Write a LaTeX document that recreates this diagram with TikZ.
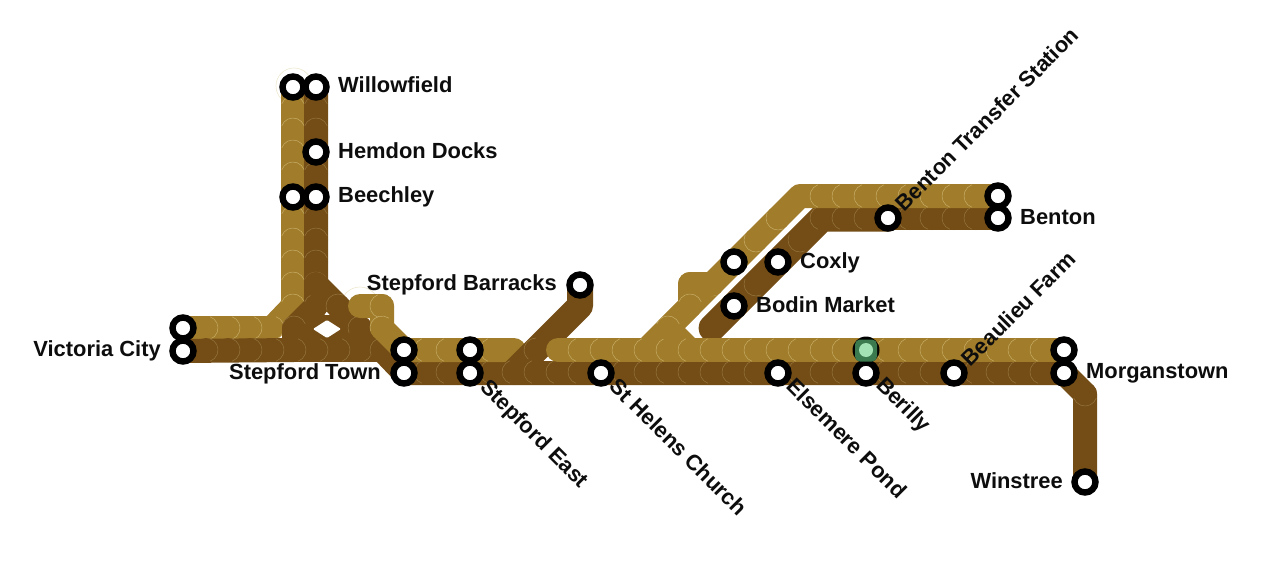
\documentclass[tikz,border=0pt]{standalone}
\usepackage{fontspec}
\setmainfont{Liberation Sans}
\usetikzlibrary{backgrounds}
\definecolor{lineA}{HTML}{A07C2B}
\definecolor{lineB}{HTML}{744D16}
\definecolor{arcA}{HTML}{C8AE68}
\definecolor{arcB}{HTML}{96763E}
\definecolor{greenring}{HTML}{3B7A4E}
\definecolor{greencore}{HTML}{A3E2B5}
\definecolor{halo}{HTML}{EFE8CF}
\tikzset{
  stop/.style={circle,draw=black,fill=white,line width=6.4pt,minimum size=21pt,inner sep=0pt},
  lab/.style={font=\fontsize{21.9}{24}\selectfont\bfseries,inner sep=0pt,text=black!95},
  bandA/.style={draw=lineA,line width=24pt,line cap=round,line join=round},
  bandB/.style={draw=lineB,line width=24pt,line cap=round,line join=round}
}
% #1 colour letter, #2 direction of the visible arc, #3 list x/y
\newcommand{\balls}[3]{\foreach \bx/\by in {#3} {%
  \fill[line#1] (\bx,\by) circle[radius=12];
  \draw[arc#1,line width=0.5pt] (\bx,\by) ++({#2-70}:12) arc[start angle={#2-70},delta angle=140,radius=12];}}
\begin{document}
\begin{tikzpicture}[x=1pt,y=-1pt]
\useasboundingbox (0,0) rectangle (1278,562);
% stations
\node[stop] (willowA) at (293,87) {};
\node[stop] (willowB) at (316,87) {};
\node[stop] (hemdon) at (316,152) {};
\node[stop] (beechA) at (293,197) {};
\node[stop] (beechB) at (316,197) {};
\node[stop] (victA) at (183,328) {};
\node[stop] (victB) at (183,351) {};
\node[stop] (townA) at (404,350) {};
\node[stop] (townB) at (404,373) {};
\node[stop] (eastA) at (470,350) {};
\node[stop] (eastB) at (470,373) {};
\node[stop] (barracks) at (580,285) {};
\node[stop] (helens) at (601,373) {};
\node[stop] (elsemere) at (778,373) {};
\node[stop] (berilly) at (866,373) {};
\node[stop] (beaulieu) at (954,373) {};
\node[stop] (morgA) at (1064,350) {};
\node[stop] (morgB) at (1064,373) {};
\node[stop] (winstree) at (1085,482) {};
\node[stop] (coxlyA) at (734,262) {};
\node[stop] (coxlyB) at (778,262) {};
\node[stop] (bodin) at (734,306) {};
\node[stop] (transfer) at (888,218) {};
\node[stop] (bentonA) at (998,196) {};
\node[stop] (bentonB) at (998,218) {};
\node[circle,fill=black,minimum size=27pt,inner sep=0pt] (greenblack) at (866,350) {};
\path[fill=greenring,rounded corners=5pt] (855,339.5) rectangle (877,361.5);
\node[circle,fill=greencore,minimum size=14pt,inner sep=0pt] (greendot) at (866,350) {};
% bends
\coordinate (a1) at (293,306); \coordinate (a2) at (272,328);
\coordinate (a3) at (360,306); \coordinate (a4) at (382,306); \coordinate (a5) at (382,328);
\coordinate (a6) at (514,350);
\coordinate (a7) at (558,350); \coordinate (a8) at (646,350); \coordinate (a9) at (800,196);
\coordinate (a10) at (690,284); \coordinate (a11) at (690,306); \coordinate (a12) at (668,328); \coordinate (a13) at (690,350);
\coordinate (a14) at (712,284);
\coordinate (b1) at (316,306); \coordinate (b2) at (294,328); \coordinate (b3) at (294,350);
\coordinate (b4) at (316,284); \coordinate (b5) at (360,328); \coordinate (b6) at (382,350);
\coordinate (b7) at (338,350);
\coordinate (b9) at (1085,394);
\coordinate (b10) at (580,306); \coordinate (b11) at (514,372);
\coordinate (b12) at (712,328); \coordinate (b13) at (822,218);
\begin{pgfonlayer}{background}
\path[fill=white] (0,0) rectangle (1278,562);
\draw[halo,line width=0.6pt] (294,86) circle[radius=18];
\draw[halo,line width=0.6pt] (360,306) circle[radius=19];
% light: Willowfield to Victoria City
\draw[bandA] (willowA.center) -- (a1) -- (a2) -- (victA.center);
\balls{A}{270}{293/108,293/130,293/152,293/174,293/196,293/218,293/240,293/262,293/284,293/306}
\balls{A}{0}{272/328,250/328,228/328,206/328}
% dark: Willowfield to Victoria City
\fill[lineB] (305,315) rectangle (350,345);
\draw[bandB] (willowB.center) -- (hemdon.center) -- (beechB.center) -- (b1) -- (b2) -- (b3) -- (victB.center);
\draw[bandB] (b5) -- (b7);
\draw[bandB] (b6) -- (b3);
\balls{B}{270}{316/108,316/130,316/152,316/174,316/196,316/218,316/240,316/262,316/284,316/306}
\balls{B}{0}{360/350,338/350,316/350}
\balls{B}{270}{294/328}
\balls{B}{0}{294/350,272/350,250/350,228/350,206/350}
% dark: Willowfield to Winstree
\draw[bandB] (b4) -- (b5) -- (b6) -- (townB.center) -- (eastB.center) -- (helens.center) -- (elsemere.center) -- (berilly.center) -- (beaulieu.center) -- (morgB.center) -- (b9) -- (winstree.center);
\balls{B}{225}{338/306,360/328,382/350}
\balls{B}{180}{426/372,448/372,492/372}
\foreach \cx in {624,646,...,1042} {\balls{B}{180}{\cx/372}}
\balls{B}{90}{1085/394}
% light: Stepford spur
\draw[bandA] (a3) -- (a4) -- (a5) -- (townA.center) -- (eastA.center) -- (a6);
\balls{A}{180}{382/306}
\balls{A}{235}{382/328}
\balls{A}{180}{426/350,448/350,492/350}
% dark: Stepford Barracks
\draw[bandB,line width=26pt] (barracks.center) -- (b10) -- (b11);
\balls{B}{200}{536/350}
\balls{B}{180}{514/372,536/372,558/372,580/372}
% dark: Bodin Market to Benton
\draw[bandB] (transfer.center) -- (bentonB.center);
\draw[bandB,line width=27pt] (b12) -- (bodin.center) -- (coxlyB.center) -- (b13) -- (transfer.center);
\balls{B}{135}{756/284,800/240}
\balls{B}{180}{822/218,844/218,866/218,910/218,932/218,954/218,976/218}
% light: main row
\draw[bandA] (a8) -- (coxlyA.center) -- (a9) -- (bentonA.center);
\balls{A}{135}{712/284,756/240,778/218}
\balls{A}{180}{822/196,844/196,866/196,888/196,910/196,932/196,954/196,976/196}
\draw[bandA] (a10) -- (a14);
\draw[bandA] (a10) -- (a11) -- (a12) -- (a13);
\balls{A}{270}{690/306}
\draw[bandA] (a7) -- (greendot.center) -- (morgA.center);
\foreach \cx in {580,602,...,1042} {\balls{A}{180}{\cx/350}}
\balls{A}{270}{668/328}
\path[fill=white,rounded corners=1pt] (313,329) -- (327,320) -- (341,329) -- (327,338) -- cycle;
\end{pgfonlayer}
% labels
\node[lab,anchor=west] (l1) at (338,85) {Willowfield};
\node[lab,anchor=west] (l2) at (338,151) {Hemdon Docks};
\node[lab,anchor=west] (l3) at (338,197) {Beechley};
\node[lab,anchor=east] (l4) at (161,351) {Victoria City};
\node[lab,anchor=east] (l5) at (381,374) {Stepford Town};
\node[lab,anchor=east] (l6) at (557,285) {Stepford Barracks};
\node[lab,anchor=west] (l7) at (800,263) {Coxly};
\node[lab,anchor=west] (l8) at (756,305) {Bodin Market};
\node[lab,anchor=west] (l9) at (1020,217) {Benton};
\node[lab,anchor=west] (l10) at (1086,373) {Morganstown};
\node[lab,anchor=east] (l11) at (1063,481) {Winstree};
\node[lab,anchor=west,rotate=-45] (l12) at (483,384) {Stepford East};
\node[lab,anchor=west,rotate=-45] (l13) at (614,382) {St Helens Church};
\node[lab,anchor=west,rotate=-45] (l14) at (791,382) {Elsemere Pond};
\node[lab,anchor=west,rotate=-45] (l15) at (879,382) {Berilly};
\node[lab,anchor=west,rotate=45] (l16) at (899,207) {Benton Transfer Station};
\node[lab,anchor=west,rotate=45] (l17) at (965,362) {Beaulieu Farm};
\end{tikzpicture}
\end{document}
